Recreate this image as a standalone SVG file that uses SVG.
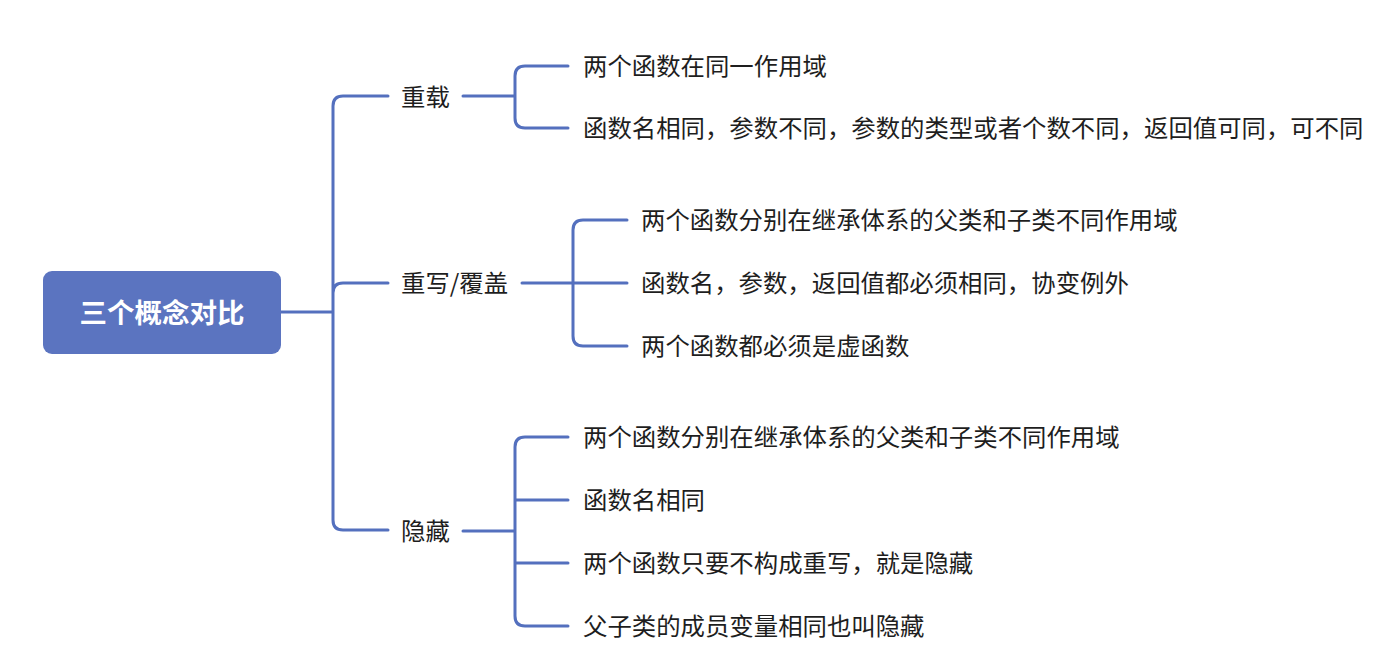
<svg xmlns="http://www.w3.org/2000/svg" width="1389" height="658" viewBox="0 0 1389 658">
<style>
.c{fill:none;stroke:#5470be;stroke-width:3;stroke-linecap:round}
.t{font-family:"Noto Sans CJK SC","Noto Sans",sans-serif;font-size:24.4px;fill:#1e1e1e;dominant-baseline:central}
.r{font-family:"Noto Sans CJK SC","Noto Sans",sans-serif;font-size:27.5px;font-weight:bold;fill:#fff;text-anchor:middle;dominant-baseline:central}
</style>
<rect width="1389" height="658" fill="#fff"/>
<g id="connectors">
<path class="c" d="M281 312 H333 M333 312 V106 Q333 96 343 96 H388 M333 293 Q333 283 343 283 H388 M333 312 V520 Q333 530 343 530 H388"/>
<path class="c" d="M463 96 H515 M515 96 V76 Q515 66 525 66 H568 M515 96 V118 Q515 128 525 128 H568"/>
<path class="c" d="M522 283 H573 V230 Q573 220 583 220 H627 M573 283 H627 M573 283 V336 Q573 346 583 346 H627"/>
<path class="c" d="M463 531 H515 M515 447 Q515 437 525 437 H568 M515 447 V616 Q515 626 525 626 H568 M515 500 H568 M515 563 H568"/>
</g>
<g id="root"><rect x="43" y="271" width="238" height="83" rx="9" fill="#5b74c0"/><text class="r" x="162" y="311">三个概念对比</text></g>
<g id="n1"><text class="t" x="401" y="95">重载</text></g>
<g id="n2"><text class="t" x="401" y="281">重写/覆盖</text></g>
<g id="n3"><text class="t" x="401" y="529">隐藏</text></g>
<g id="l1"><text class="t" x="583" y="64">两个函数在同一作用域</text></g>
<g id="l2"><text class="t" x="583" y="126">函数名相同，参数不同，参数的类型或者个数不同，返回值可同，可不同</text></g>
<g id="l3"><text class="t" x="641" y="218">两个函数分别在继承体系的父类和子类不同作用域</text></g>
<g id="l4"><text class="t" x="641" y="281">函数名，参数，返回值都必须相同，协变例外</text></g>
<g id="l5"><text class="t" x="641" y="344">两个函数都必须是虚函数</text></g>
<g id="l6"><text class="t" x="583" y="435">两个函数分别在继承体系的父类和子类不同作用域</text></g>
<g id="l7"><text class="t" x="583" y="498">函数名相同</text></g>
<g id="l8"><text class="t" x="583" y="561">两个函数只要不构成重写，就是隐藏</text></g>
<g id="l9"><text class="t" x="583" y="624">父子类的成员变量相同也叫隐藏</text></g>
</svg>
